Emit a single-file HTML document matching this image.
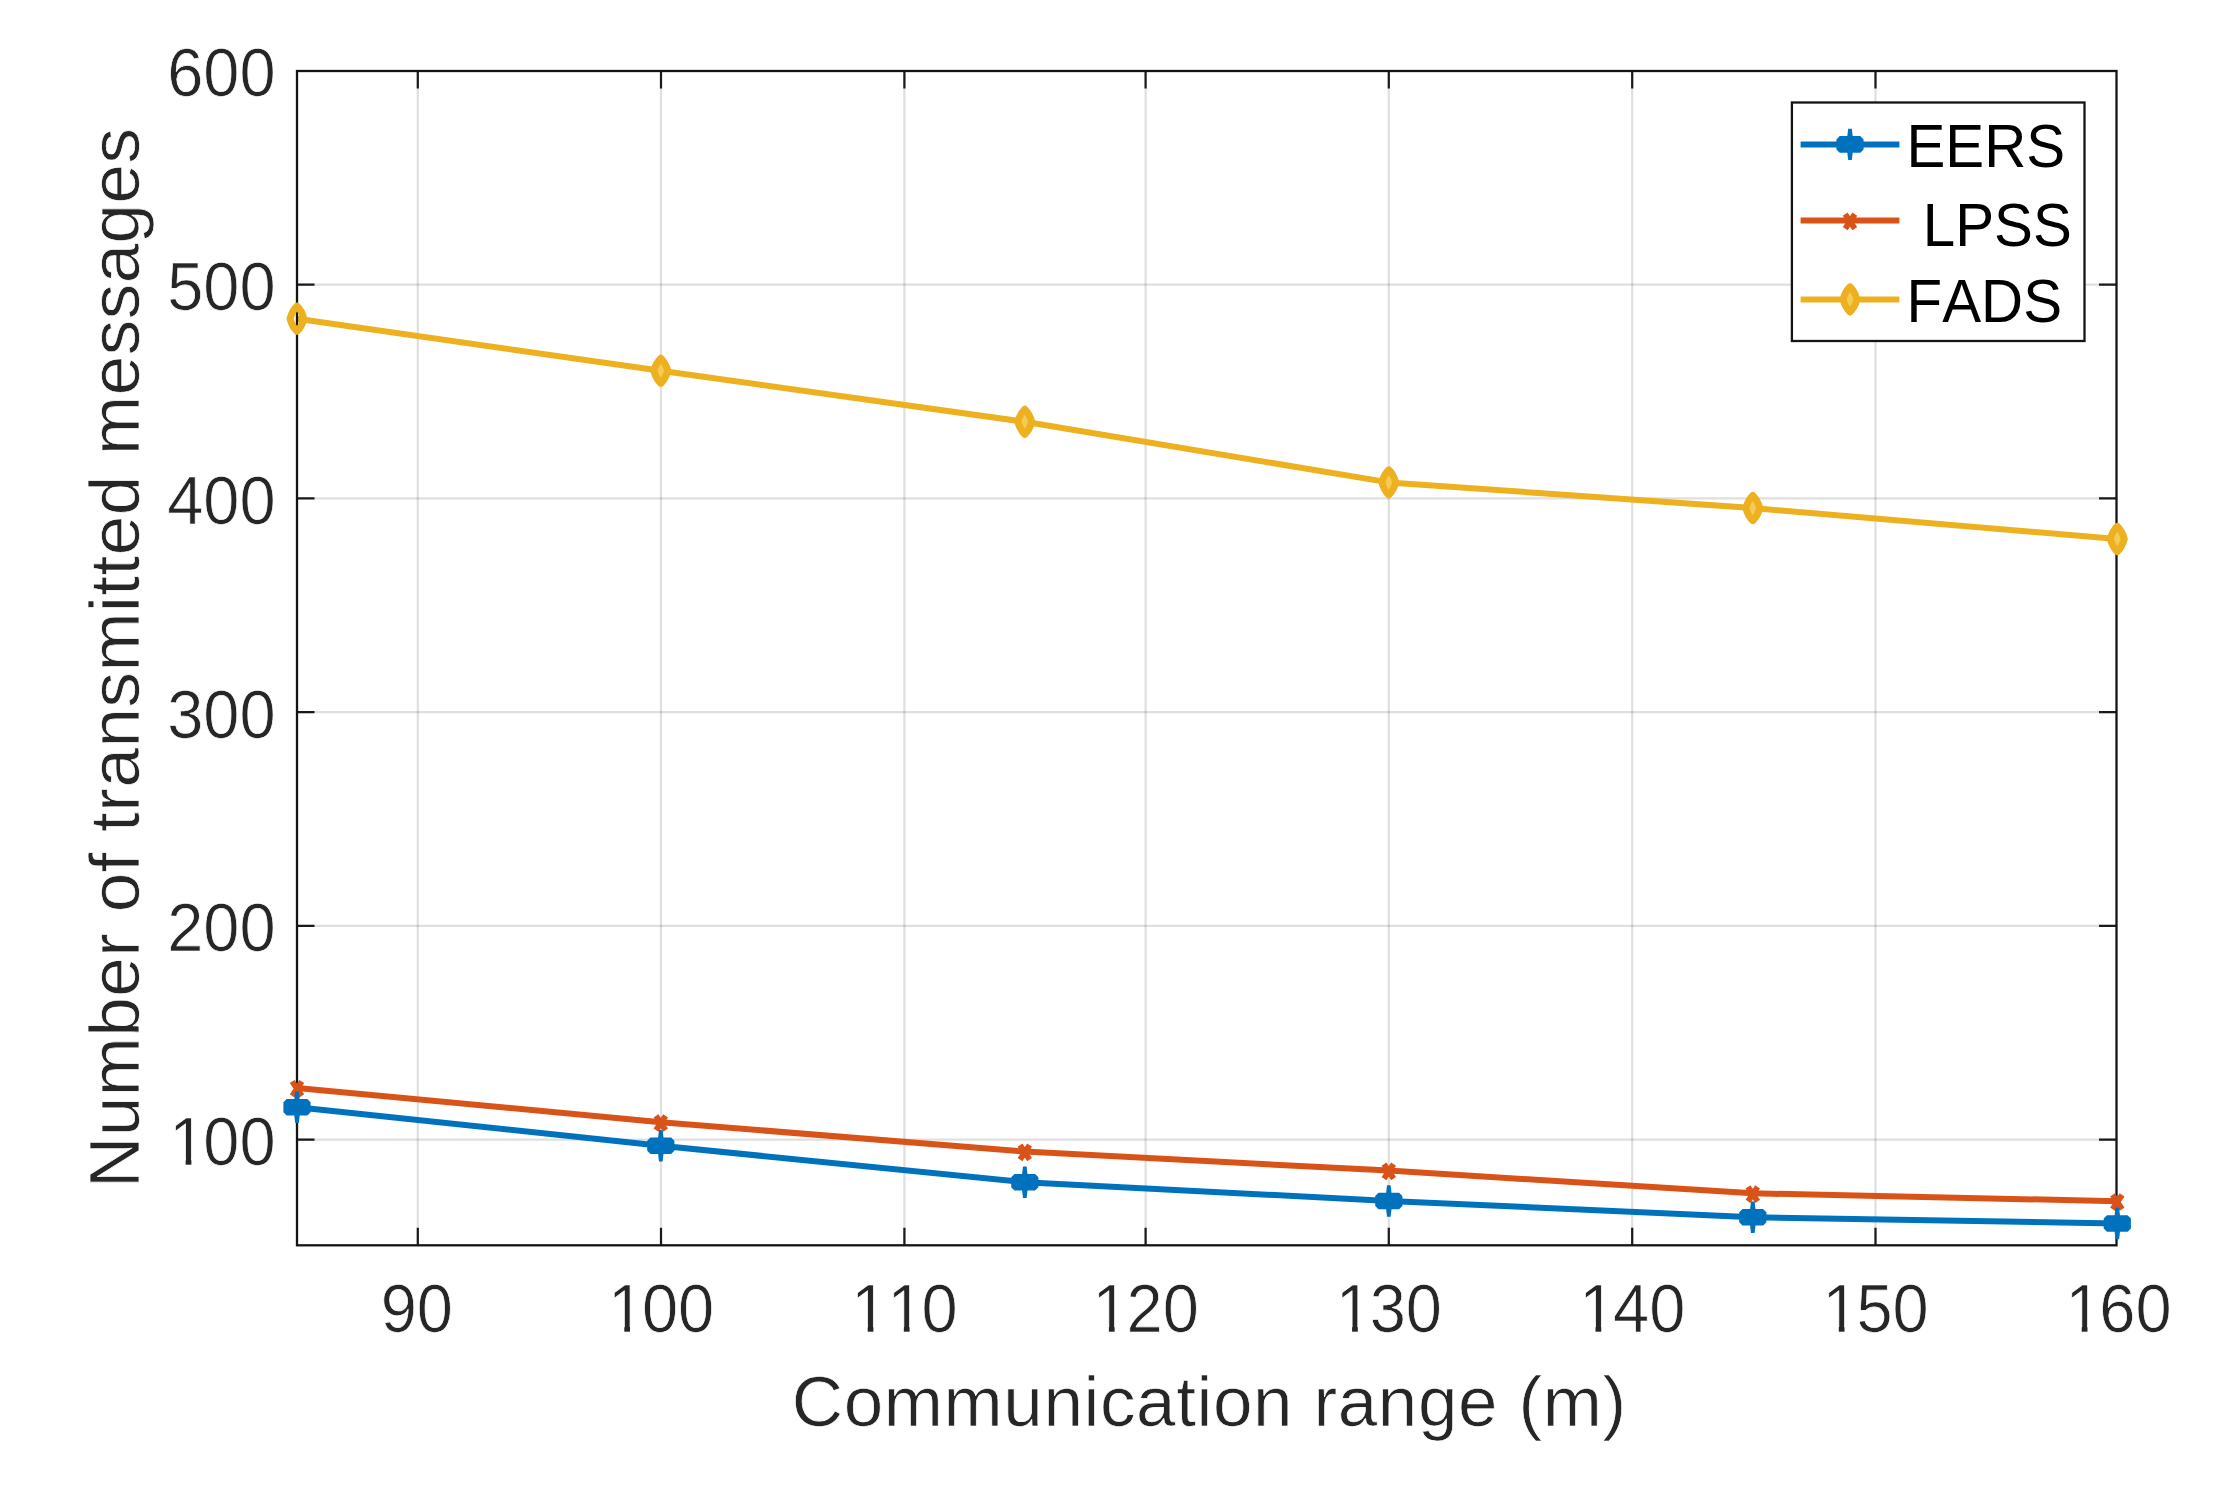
<!DOCTYPE html>
<html><head><meta charset="utf-8"><title>Number of transmitted messages vs Communication range</title>
<style>html,body{margin:0;padding:0;background:#fff;width:2215px;height:1490px;overflow:hidden}svg{display:block}text{font-kerning:none;font-feature-settings:'kern' 0}</style>
</head><body>
<svg width="2215" height="1490" viewBox="0 0 2215 1490"><rect x="0" y="0" width="2215" height="1490" fill="#fff"/><path d="M417.8 71.0V1245.3M661.0 71.0V1245.3M904.4 71.0V1245.3M1145.6 71.0V1245.3M1388.8 71.0V1245.3M1632.2 71.0V1245.3M1875.5 71.0V1245.3" stroke="#262626" stroke-opacity="0.15" stroke-width="2.2" fill="none"/><path d="M297.0 1139.6H2116.5M297.0 925.9H2116.5M297.0 712.2H2116.5M297.0 498.4H2116.5M297.0 284.7H2116.5" stroke="#262626" stroke-opacity="0.15" stroke-width="2.2" fill="none"/><path d="M417.8 1245.3V1227.8M417.8 71.0V88.5M661.0 1245.3V1227.8M661.0 71.0V88.5M904.4 1245.3V1227.8M904.4 71.0V88.5M1145.6 1245.3V1227.8M1145.6 71.0V88.5M1388.8 1245.3V1227.8M1388.8 71.0V88.5M1632.2 1245.3V1227.8M1632.2 71.0V88.5M1875.5 1245.3V1227.8M1875.5 71.0V88.5M297.0 1139.6H314.5M2116.5 1139.6H2099.0M297.0 925.9H314.5M2116.5 925.9H2099.0M297.0 712.2H314.5M2116.5 712.2H2099.0M297.0 498.4H314.5M2116.5 498.4H2099.0M297.0 284.7H314.5M2116.5 284.7H2099.0" stroke="#1a1a1a" stroke-width="2.2" fill="none"/><polyline points="297.0,318.7 660.8,370.8 1024.8,421.8 1388.8,482.4 1752.8,508.1 2117.3,539.0" fill="none" stroke="#EDB120" stroke-width="6.0" stroke-linejoin="round"/><polyline points="297.0,1087.9 660.8,1122.2 1024.8,1151.6 1388.8,1170.6 1752.8,1193.3 2117.3,1201.2" fill="none" stroke="#D95319" stroke-width="6.0" stroke-linejoin="round"/><polyline points="297.0,1107.2 660.8,1145.8 1024.8,1182.2 1388.8,1201.0 1752.8,1217.2 2117.3,1223.5" fill="none" stroke="#0072BD" stroke-width="6.0" stroke-linejoin="round"/><rect x="297.0" y="71.0" width="1819.5" height="1174.3" fill="none" stroke="#141414" stroke-width="2.3"/><path d="M297.00 306.10Q301.62 310.38 304.00 318.70Q301.62 327.02 297.00 331.30Q292.38 327.02 290.00 318.70Q292.38 310.38 297.00 306.10Z" fill="none" stroke="#EDB120" stroke-width="7" stroke-linejoin="round"/><path d="M660.80 358.20Q665.42 362.48 667.80 370.80Q665.42 379.12 660.80 383.40Q656.18 379.12 653.80 370.80Q656.18 362.48 660.80 358.20Z" fill="#F3CB55" stroke="#EDB120" stroke-width="7" stroke-linejoin="round"/><path d="M1024.80 409.20Q1029.42 413.48 1031.80 421.80Q1029.42 430.12 1024.80 434.40Q1020.18 430.12 1017.80 421.80Q1020.18 413.48 1024.80 409.20Z" fill="#F3CB55" stroke="#EDB120" stroke-width="7" stroke-linejoin="round"/><path d="M1388.80 469.80Q1393.42 474.08 1395.80 482.40Q1393.42 490.72 1388.80 495.00Q1384.18 490.72 1381.80 482.40Q1384.18 474.08 1388.80 469.80Z" fill="#F3CB55" stroke="#EDB120" stroke-width="7" stroke-linejoin="round"/><path d="M1752.80 495.50Q1757.42 499.78 1759.80 508.10Q1757.42 516.42 1752.80 520.70Q1748.18 516.42 1745.80 508.10Q1748.18 499.78 1752.80 495.50Z" fill="#F3CB55" stroke="#EDB120" stroke-width="7" stroke-linejoin="round"/><path d="M2117.30 526.40Q2121.92 530.68 2124.30 539.00Q2121.92 547.32 2117.30 551.60Q2112.68 547.32 2110.30 539.00Q2112.68 530.68 2117.30 526.40Z" fill="#F3CB55" stroke="#EDB120" stroke-width="7" stroke-linejoin="round"/><path d="M292.2 1081.5L301.8 1095.9M292.2 1095.9L301.8 1081.5" fill="none" stroke="#D95319" stroke-width="5.8"/><path d="M656.0 1115.8L665.6 1130.2M656.0 1130.2L665.6 1115.8" fill="none" stroke="#D95319" stroke-width="5.8"/><path d="M1020.0 1145.2L1029.6 1159.6M1020.0 1159.6L1029.6 1145.2" fill="none" stroke="#D95319" stroke-width="5.8"/><path d="M1384.0 1164.2L1393.6 1178.6M1384.0 1178.6L1393.6 1164.2" fill="none" stroke="#D95319" stroke-width="5.8"/><path d="M1748.0 1186.9L1757.6 1201.3M1748.0 1201.3L1757.6 1186.9" fill="none" stroke="#D95319" stroke-width="5.8"/><path d="M2112.5 1194.8L2122.1 1209.2M2112.5 1209.2L2122.1 1194.8" fill="none" stroke="#D95319" stroke-width="5.8"/><polygon points="283.40,1102.20 286.70,1098.90 294.30,1098.90 295.20,1091.50 298.80,1091.50 299.70,1098.90 307.30,1098.90 310.60,1102.20 310.60,1112.20 307.30,1115.50 299.70,1115.50 298.80,1122.90 295.20,1122.90 294.30,1115.50 286.70,1115.50 283.40,1112.20" fill="#0072BD"/><polygon points="647.20,1140.80 650.50,1137.50 658.10,1137.50 659.00,1130.10 662.60,1130.10 663.50,1137.50 671.10,1137.50 674.40,1140.80 674.40,1150.80 671.10,1154.10 663.50,1154.10 662.60,1161.50 659.00,1161.50 658.10,1154.10 650.50,1154.10 647.20,1150.80" fill="#0072BD"/><polygon points="1011.20,1177.20 1014.50,1173.90 1022.10,1173.90 1023.00,1166.50 1026.60,1166.50 1027.50,1173.90 1035.10,1173.90 1038.40,1177.20 1038.40,1187.20 1035.10,1190.50 1027.50,1190.50 1026.60,1197.90 1023.00,1197.90 1022.10,1190.50 1014.50,1190.50 1011.20,1187.20" fill="#0072BD"/><polygon points="1375.20,1196.00 1378.50,1192.70 1386.10,1192.70 1387.00,1185.30 1390.60,1185.30 1391.50,1192.70 1399.10,1192.70 1402.40,1196.00 1402.40,1206.00 1399.10,1209.30 1391.50,1209.30 1390.60,1216.70 1387.00,1216.70 1386.10,1209.30 1378.50,1209.30 1375.20,1206.00" fill="#0072BD"/><polygon points="1739.20,1212.20 1742.50,1208.90 1750.10,1208.90 1751.00,1201.50 1754.60,1201.50 1755.50,1208.90 1763.10,1208.90 1766.40,1212.20 1766.40,1222.20 1763.10,1225.50 1755.50,1225.50 1754.60,1232.90 1751.00,1232.90 1750.10,1225.50 1742.50,1225.50 1739.20,1222.20" fill="#0072BD"/><polygon points="2103.70,1218.50 2107.00,1215.20 2114.60,1215.20 2115.50,1207.80 2119.10,1207.80 2120.00,1215.20 2127.60,1215.20 2130.90,1218.50 2130.90,1228.50 2127.60,1231.80 2120.00,1231.80 2119.10,1239.20 2115.50,1239.20 2114.60,1231.80 2107.00,1231.80 2103.70,1228.50" fill="#0072BD"/><g font-family="Liberation Sans, Arial, Helvetica, sans-serif" font-size="65.0" fill="#262626"><g transform="translate(380.65 1332.30) scale(1 1.041)"><text x="0" y="0" stroke="#fff" stroke-width="0.7" stroke-linejoin="round">90</text><g fill="#fff"></g></g><g transform="translate(605.78 1332.30) scale(1 1.041)"><text x="0" y="0" stroke="#fff" stroke-width="0.7" stroke-linejoin="round"><tspan dx="2.16">1</tspan><tspan dx="-2.16">0</tspan>0</text><g fill="#fff"><rect x="5.91" y="-6.46" width="12.59" height="7.36"/><rect x="24.25" y="-6.46" width="12.09" height="7.36"/></g></g><g transform="translate(849.18 1332.30) scale(1 1.041)"><text x="0" y="0" stroke="#fff" stroke-width="0.7" stroke-linejoin="round"><tspan dx="2.16">1</tspan>1<tspan dx="-2.16">0</tspan></text><g fill="#fff"><rect x="5.91" y="-6.46" width="12.59" height="7.36"/><rect x="24.25" y="-6.46" width="12.09" height="7.36"/><rect x="42.06" y="-6.46" width="12.59" height="7.36"/><rect x="60.40" y="-6.46" width="12.09" height="7.36"/></g></g><g transform="translate(1090.38 1332.30) scale(1 1.041)"><text x="0" y="0" stroke="#fff" stroke-width="0.7" stroke-linejoin="round"><tspan dx="2.16">1</tspan><tspan dx="-2.16">2</tspan>0</text><g fill="#fff"><rect x="5.91" y="-6.46" width="12.59" height="7.36"/><rect x="24.25" y="-6.46" width="12.09" height="7.36"/></g></g><g transform="translate(1333.58 1332.30) scale(1 1.041)"><text x="0" y="0" stroke="#fff" stroke-width="0.7" stroke-linejoin="round"><tspan dx="2.16">1</tspan><tspan dx="-2.16">3</tspan>0</text><g fill="#fff"><rect x="5.91" y="-6.46" width="12.59" height="7.36"/><rect x="24.25" y="-6.46" width="12.09" height="7.36"/></g></g><g transform="translate(1576.98 1332.30) scale(1 1.041)"><text x="0" y="0" stroke="#fff" stroke-width="0.7" stroke-linejoin="round"><tspan dx="2.16">1</tspan><tspan dx="-2.16">4</tspan>0</text><g fill="#fff"><rect x="5.91" y="-6.46" width="12.59" height="7.36"/><rect x="24.25" y="-6.46" width="12.09" height="7.36"/></g></g><g transform="translate(1820.28 1332.30) scale(1 1.041)"><text x="0" y="0" stroke="#fff" stroke-width="0.7" stroke-linejoin="round"><tspan dx="2.16">1</tspan><tspan dx="-2.16">5</tspan>0</text><g fill="#fff"><rect x="5.91" y="-6.46" width="12.59" height="7.36"/><rect x="24.25" y="-6.46" width="12.09" height="7.36"/></g></g><g transform="translate(2063.23 1332.30) scale(1 1.041)"><text x="0" y="0" stroke="#fff" stroke-width="0.7" stroke-linejoin="round"><tspan dx="2.16">1</tspan><tspan dx="-2.16">6</tspan>0</text><g fill="#fff"><rect x="5.91" y="-6.46" width="12.59" height="7.36"/><rect x="24.25" y="-6.46" width="12.09" height="7.36"/></g></g><g transform="translate(167.15 1165.05) scale(1 1.041)"><text x="0" y="0" stroke="#fff" stroke-width="0.7" stroke-linejoin="round"><tspan dx="2.16">1</tspan><tspan dx="-2.16">0</tspan>0</text><g fill="#fff"><rect x="5.91" y="-6.46" width="12.59" height="7.36"/><rect x="24.25" y="-6.46" width="12.09" height="7.36"/></g></g><g transform="translate(167.15 951.33) scale(1 1.041)"><text x="0" y="0" stroke="#fff" stroke-width="0.7" stroke-linejoin="round">200</text><g fill="#fff"></g></g><g transform="translate(167.15 737.61) scale(1 1.041)"><text x="0" y="0" stroke="#fff" stroke-width="0.7" stroke-linejoin="round">300</text><g fill="#fff"></g></g><g transform="translate(167.15 523.89) scale(1 1.041)"><text x="0" y="0" stroke="#fff" stroke-width="0.7" stroke-linejoin="round">400</text><g fill="#fff"></g></g><g transform="translate(167.15 310.17) scale(1 1.041)"><text x="0" y="0" stroke="#fff" stroke-width="0.7" stroke-linejoin="round">500</text><g fill="#fff"></g></g><g transform="translate(167.15 96.45) scale(1 1.041)"><text x="0" y="0" stroke="#fff" stroke-width="0.7" stroke-linejoin="round">600</text><g fill="#fff"></g></g></g><text transform="translate(1209.31 1426.0)" text-anchor="middle" font-family="Liberation Sans, Arial, Helvetica, sans-serif" font-size="71" letter-spacing="0.62" fill="#262626" stroke="#fff" stroke-width="0.7" stroke-linejoin="round">Communication range (m)</text><text transform="translate(138.5 657.75) rotate(-90)" text-anchor="middle" font-family="Liberation Sans, Arial, Helvetica, sans-serif" font-size="71" letter-spacing="0.5" fill="#262626" stroke="#fff" stroke-width="0.7" stroke-linejoin="round">Number of transmitted messages</text><rect x="1791.9" y="102.5" width="292.6" height="238.5" fill="#fff" stroke="#141414" stroke-width="2.3"/><path d="M1800.6 144.4H1899.4" stroke="#0072BD" stroke-width="6.0"/><polygon points="1836.40,139.40 1839.70,136.10 1847.30,136.10 1848.20,128.70 1851.80,128.70 1852.70,136.10 1860.30,136.10 1863.60,139.40 1863.60,149.40 1860.30,152.70 1852.70,152.70 1851.80,160.10 1848.20,160.10 1847.30,152.70 1839.70,152.70 1836.40,149.40" fill="#0072BD"/><text transform="translate(1906.4 167.4) scale(1 1.041)" font-family="Liberation Sans, Arial, Helvetica, sans-serif" font-size="58.3" fill="#000">EERS</text><path d="M1800.6 220.6H1899.4" stroke="#D95319" stroke-width="6.0"/><path d="M1845.2 214.2L1854.8 228.6M1845.2 228.6L1854.8 214.2" fill="none" stroke="#D95319" stroke-width="5.8"/><text transform="translate(1906.6 246.0) scale(1 1.041)" font-family="Liberation Sans, Arial, Helvetica, sans-serif" font-size="58.3" fill="#000"> LPSS</text><path d="M1800.6 299.4H1899.4" stroke="#EDB120" stroke-width="6.0"/><path d="M1850.00 286.80Q1854.62 291.08 1857.00 299.40Q1854.62 307.72 1850.00 312.00Q1845.38 307.72 1843.00 299.40Q1845.38 291.08 1850.00 286.80Z" fill="#F3CB55" stroke="#EDB120" stroke-width="7" stroke-linejoin="round"/><text transform="translate(1906.6 322.4) scale(1 1.041)" font-family="Liberation Sans, Arial, Helvetica, sans-serif" font-size="58.3" fill="#000">FADS</text></svg>
</body></html>
